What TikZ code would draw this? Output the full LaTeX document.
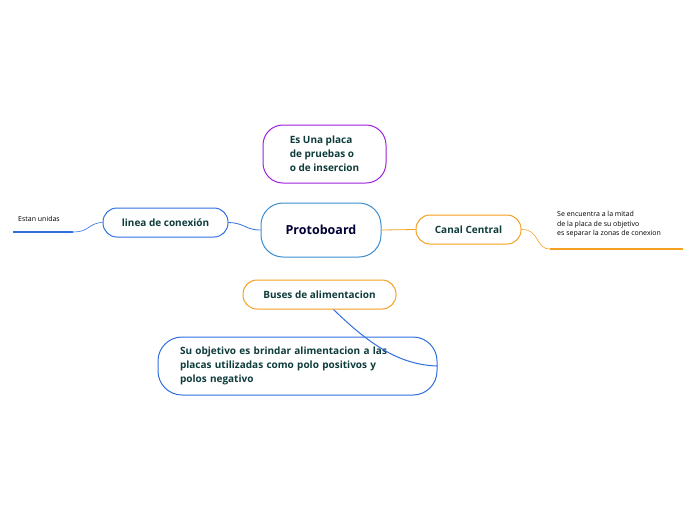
\documentclass[tikz,border=0pt]{standalone}
\usepackage{fontspec}
\setmainfont{Open Sans}[Ligatures=NoCommon]
\begin{document}
\begin{tikzpicture}[x=1pt,y=-1pt,
  box/.style={draw,line width=1pt,rounded corners=14pt,fill=white,text=txt,font=\bfseries\fontsize{10}{14}\selectfont,align=left,inner sep=0pt},
  small/.style={font=\fontsize{7}{9.5}\selectfont,align=left,anchor=north west,inner sep=0pt}]
\definecolor{txt}{HTML}{0E3B3B}
\definecolor{bl}{HTML}{2F6FE0}
\definecolor{pb}{HTML}{3B8FD0}
\definecolor{pu}{HTML}{A020E0}
\definecolor{og}{HTML}{F5A020}
\useasboundingbox (0,0) rectangle (696,520);
\node[box,draw=pb,minimum width=120pt,minimum height=54pt,rounded corners=22pt,font=\bfseries\fontsize{12.5}{15}\selectfont,text=black!80!blue] (p) at (321,230) {Protoboard};
\node[box,draw=pu,minimum width=123pt,minimum height=58pt,rounded corners=20pt] (e) at (324.5,154) {Es Una placa\\de pruebas o\\o de insercion};
\node[box,draw=bl,minimum width=125pt,minimum height=29pt] (l) at (165.5,222.5) {linea de conexión};
\node[box,draw=og,minimum width=105pt,minimum height=29pt] (c) at (468.5,229.5) {Canal Central};
\node[box,draw=og,minimum width=153pt,minimum height=29pt] (b) at (319.5,294.5) {Buses de alimentacion};
\node[box,draw=bl,minimum width=279pt,minimum height=58pt,rounded corners=24pt,text width=235pt] (s) at (297.5,366) {Su objetivo es brindar alimentacion a las\\placas utilizadas como polo positivos y\\polos negativo};
\node[small] (t1) at (18,216) {Estan unidas};
\coordinate (u1a) at (13,232); \coordinate (u1b) at (73,232);
\node[small] (t2) at (557,211) {Se encuentra a la mitad\\de la placa de su objetivo\\ es separar la zonas de conexion};
\coordinate (u2a) at (550,249); \coordinate (u2b) at (683,249);
\draw[bl,line width=1.2pt] (u1a) -- (u1b);
\draw[bl,line width=0.6pt] (u1b) .. controls (90,232) and (88,223) .. (l.west);
\draw[og,line width=1.2pt] (u2a) -- (u2b);
\draw[og,line width=0.6pt] (c.east) .. controls (540,229) and (535,249) .. (u2a);
\draw[bl,line width=0.8pt] (p.west) .. controls (245,230) and (245,223) .. (l.east);
\draw[og,line width=0.8pt] (p.east) -- (c.west);
\draw[bl,line width=1pt] (b.south east) ++(-63,0) coordinate (bs) (bs) .. controls (370,345) and (400,365) .. (s.east);
\end{tikzpicture}
\end{document}
